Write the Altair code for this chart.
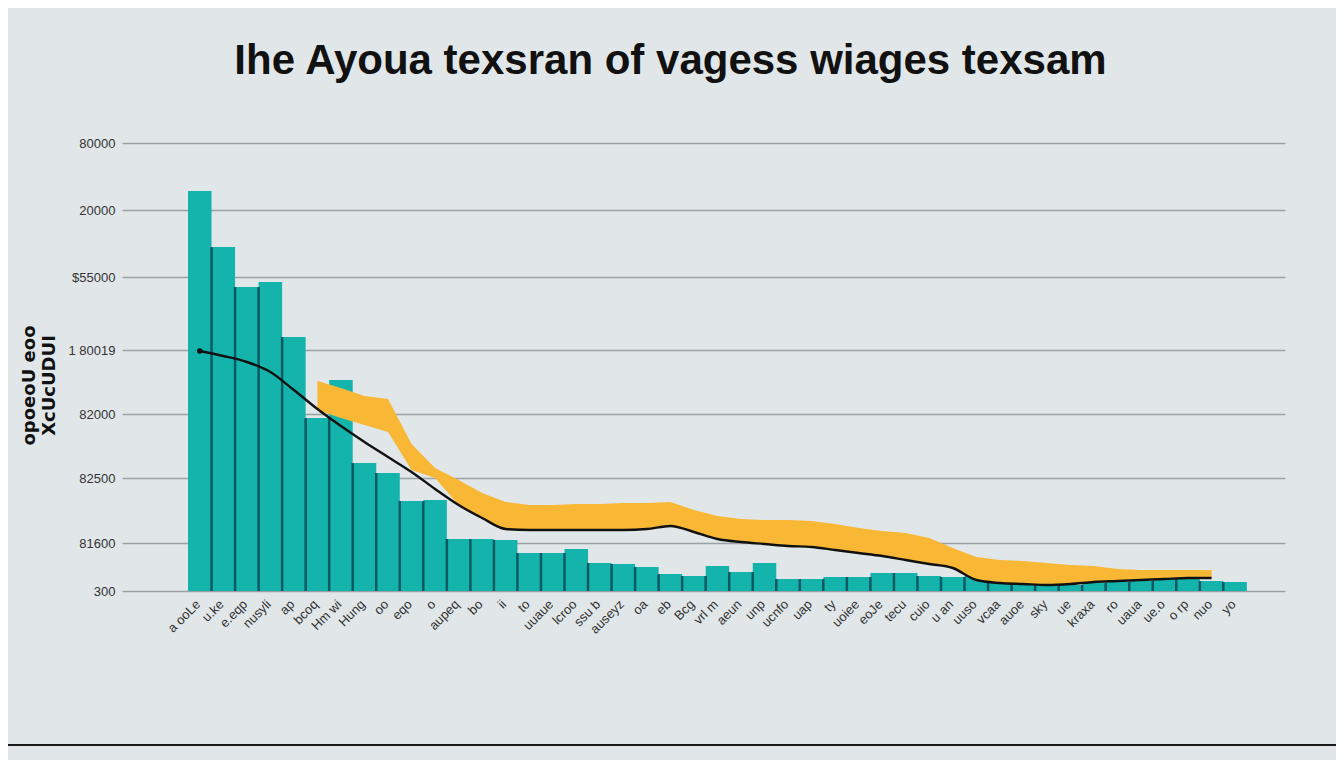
import altair as alt
import pandas as pd

cats = ["a ooLe", "u.ke", "e.eqp", "nusyli", "ap", "bcoq", "Hm wi", "Hung", "oo", "eqo",
        "o", "aupeq", "bo", "ii", "to", "uuaue", "lcroo", "ssu b", "auseyz", "oa",
        "eb", "Bcg", "vrl m", "aeun", "unp", "ucnfo", "uap", "ty", "uoiee", "eoJe",
        "tecu", "cuio", "u an", "uuso", "vcaa", "auoe", "sky", "ue", "kraxa", "ro",
        "uaua", "ue.o", "o rp", "nuo", "yo"]

bar_values = [8000, 6880, 6080, 6180, 5080, 3460, 4220, 2560, 2360, 1800,
              1820, 1040, 1040, 1020, 760, 760, 840, 560, 540, 480,
              340, 300, 500, 380, 560, 240, 240, 280, 280, 360,
              360, 300, 280, 300, 220, 160, 120, 120, 160, 180,
              200, 240, 280, 200, 180]

line_values = [4800, 4700, 4580, 4380, 4020, 3640, 3300, 2980, 2680, 2380,
               2040, 1720, 1460, 1240, 1220, 1220, 1220, 1220, 1220, 1240,
               1300, 1180, 1040, 980, 940, 900, 880, 820, 760, 700,
               620, 540, 460, 220, 160, 140, 120, 140, 180, 200,
               220, 240, 260, 260, None]

band_top = [None, None, None, None, None, 4200, 4060, 3900, 3840, 2940,
            2460, 2220, 1960, 1780, 1720, 1720, 1740, 1740, 1760, 1760,
            1780, 1620, 1500, 1440, 1420, 1420, 1400, 1340, 1260, 1200,
            1160, 1060, 860, 680, 620, 600, 560, 520, 500, 440,
            420, 420, 420, 420, None]

band_bottom = [None, None, None, None, None, 3620, 3460, 3320, 3180, 2420,
               2260, 1720, 1460, 1240, 1220, 1220, 1220, 1220, 1220, 1240,
               1300, 1180, 1040, 980, 940, 900, 880, 820, 760, 700,
               620, 540, 460, 220, 160, 140, 120, 140, 180, 200,
               220, 240, 260, 260, None]

tick_values = [0, 960, 2260, 3540, 4820, 6280, 7620, 8960]
tick_labels = ["300", "81600", "82500", "82000", "1 80019", "$55000", "20000", "80000"]

title_text = "Ihe Ayoua texsran of vagess wiages texsam"
y_title = ["opoeoU eoo", "XcUcUDUI"]

idx = list(range(1, len(cats) + 1))
df = pd.DataFrame({"i": idx, "cat": cats, "value": bar_values})
df["x0"] = df["i"] - 0.5
df["x1"] = df["i"] + 0.5
df_line = pd.DataFrame({"i": idx, "v": line_values}).dropna()
df_band = pd.DataFrame({"i": idx, "top": band_top, "bot": band_bottom}).dropna()
df_div = pd.DataFrame({
    "x": [i - 0.5 for i in idx[1:]],
    "h": [min(bar_values[k], bar_values[k - 1]) for k in range(1, len(cats))],
})

y_label_expr = " : ".join(
    f"datum.value == {v} ? '{l}'" for v, l in zip(tick_values, tick_labels)
) + " : ''"

xscale = alt.Scale(domain=[-2.305, 47.12], nice=False, zero=False)
yscale = alt.Scale(domain=[0, 8960], nice=False, zero=True)

x_axis = alt.Axis(title=None, labels=False, domain=False, ticks=False, grid=False)
y_axis = alt.Axis(values=tick_values, labelExpr=y_label_expr, title=y_title,
                  titleFontSize=18, titleFontWeight="bold", titleColor="#111111",
                  titleFont="DejaVu Sans", titlePadding=10, titleY=242,
                  labelFontSize=13, labelColor="#333333", labelFont="Liberation Sans",
                  labelPadding=7, domain=False, ticks=False,
                  grid=True, gridColor="#8e9598", gridWidth=1.5, gridOpacity=0.85)

bars = alt.Chart(df).mark_rect(color="#14B4AD").encode(
    x=alt.X("x0:Q", scale=xscale, axis=x_axis),
    x2="x1:Q",
    y=alt.Y("value:Q", scale=yscale, axis=y_axis),
    y2=alt.datum(0),
)

dividers = alt.Chart(df_div).mark_rule(color="#0b5a62", strokeWidth=2.5).encode(
    x=alt.X("x:Q", scale=xscale),
    y=alt.Y("h:Q", scale=yscale),
    y2=alt.datum(0),
)

band = alt.Chart(df_band).mark_area(color="#F8B735", interpolate="linear").encode(
    x=alt.X("i:Q", scale=xscale),
    y=alt.Y("top:Q", scale=yscale),
    y2="bot:Q",
)

line = alt.Chart(df_line).mark_line(color="#111111", strokeWidth=2.4, interpolate="monotone").encode(
    x=alt.X("i:Q", scale=xscale),
    y=alt.Y("v:Q", scale=yscale),
)

start_dot = alt.Chart(df_line.head(1)).mark_point(color="#111111", filled=True, size=30, opacity=1).encode(
    x=alt.X("i:Q", scale=xscale),
    y=alt.Y("v:Q", scale=yscale),
)

x_labels = alt.Chart(df).mark_text(angle=315, align="right", baseline="middle",
                                   fontSize=13, font="Liberation Sans", color="#333333",
                                   dx=-2).encode(
    x=alt.X("i:Q", scale=xscale),
    y=alt.value(458),
    text="cat:N",
)

floor_line = alt.Chart(df.head(1)).mark_rule(color="#1a1a1a", strokeWidth=2).encode(
    x=alt.value(-114), x2=alt.value(1214), y=alt.value(602),
)

chart = alt.layer(bars, dividers, band, line, start_dot, x_labels, floor_line).properties(
    width=1163,
    height=448,
    title=alt.TitleParams(title_text, fontSize=42, font="Liberation Sans", fontWeight="bold",
                          color="#111111", anchor="middle", dx=-33, offset=54),
    autosize=alt.AutoSizeParams(type="none"),
    padding={"left": 114, "top": 135, "right": 51, "bottom": 169},
    background="#e1e7e9",
).configure_view(stroke=None)

chart.save("out.html", embed_options={"renderer": "svg", "actions": False})
